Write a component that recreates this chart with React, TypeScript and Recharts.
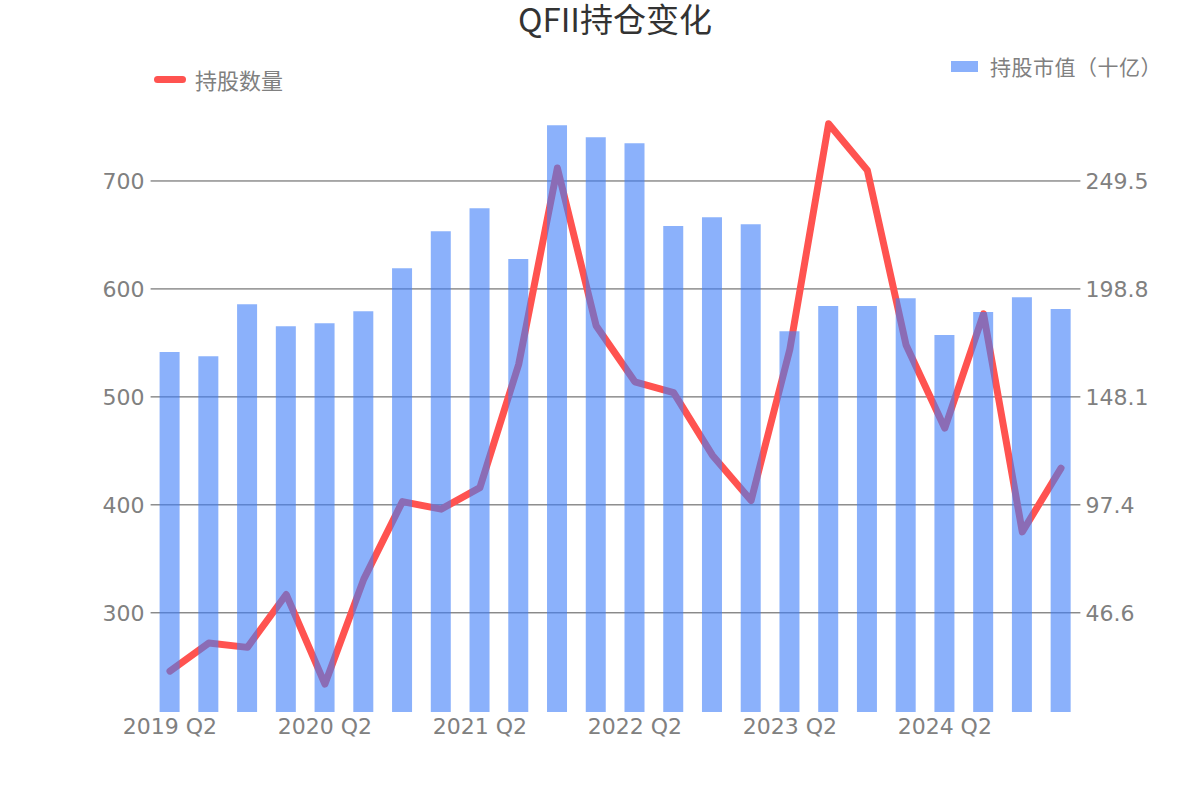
import React from 'react';
import {
  ComposedChart,
  Bar,
  Line,
  XAxis,
  YAxis,
  CartesianGrid,
} from 'recharts';

const quarters = [
  '2019 Q2', '2019 Q3', '2019 Q4', '2020 Q1',
  '2020 Q2', '2020 Q3', '2020 Q4', '2021 Q1',
  '2021 Q2', '2021 Q3', '2021 Q4', '2022 Q1',
  '2022 Q2', '2022 Q3', '2022 Q4', '2023 Q1',
  '2023 Q2', '2023 Q3', '2023 Q4', '2024 Q1',
  '2024 Q2', '2024 Q3', '2024 Q4', '2025 Q1',
];

// 持股数量 (left axis)
const shareCount = [
  246, 272, 268, 317, 234, 331, 403, 396,
  416, 530, 712, 566, 514, 504, 446, 404,
  544, 753, 710, 548, 471, 577, 375, 434,
];

// 持股市值（十亿） (right axis)
const marketValue = [
  169.1, 167.2, 191.6, 181.3, 182.7, 188.3, 208.5, 225.9,
  236.7, 212.8, 275.7, 270.1, 267.2, 228.3, 232.5, 229.2,
  178.9, 190.7, 190.7, 194.4, 177.1, 187.9, 194.9, 189.3,
];

const leftTicks = [300, 400, 500, 600, 700];
const rightTicks = [46.6, 97.4, 148.1, 198.8, 249.5];

const leftDomain: [number, number] = [208.13, 775];
const rightDomain: [number, number] = [0, 0.50725 * (775 - 208.13)];

const data = quarters.map((q, i) => ({
  quarter: q,
  count: shareCount[i],
  value: marketValue[i],
}));

const font = '"DejaVu Sans", "Noto Sans CJK SC", sans-serif';
const cjk = '"Noto Sans CJK SC", "DejaVu Sans", sans-serif';
const tickStyle = { fontSize: 22, fill: '#808080', fontFamily: font };

export default function App() {
  return (
    <div style={{ position: 'absolute', left: 0, top: 0, width: 1200, height: 800, background: '#fff' }}>
      <div
        style={{
          position: 'absolute', left: 415, width: 400, top: 3, textAlign: 'center',
          fontFamily: cjk, fontSize: 33, color: '#333', lineHeight: '30px',
        }}
      >
        QFII持仓变化
      </div>

      <div style={{ position: 'absolute', left: 154, top: 64, display: 'flex', alignItems: 'center' }}>
        <div style={{ width: 32, height: 7, borderRadius: 4, background: '#ff5350' }} />
        <span style={{ marginLeft: 9, fontFamily: cjk, fontSize: 22, color: '#808080', lineHeight: '30px' }}>
          持股数量
        </span>
      </div>

      <div style={{ position: 'absolute', left: 951, top: 51, display: 'flex', alignItems: 'center' }}>
        <div style={{ width: 27, height: 11, background: '#8ab0fb' }} />
        <span style={{ marginLeft: 12, fontFamily: cjk, fontSize: 21, letterSpacing: 0.5, color: '#808080', lineHeight: '30px' }}>
          持股市值（十亿）
        </span>
      </div>

      <ComposedChart
        width={1200}
        height={800}
        data={data}
        margin={{ top: 100, right: 0, left: 0, bottom: 0 }}
      >
        <CartesianGrid yAxisId="left" vertical={false} stroke="#555" horizontalValues={leftTicks} />
        <XAxis
          dataKey="quarter"
          interval={3}
          height={88}
          tick={tickStyle}
          tickLine={false}
          axisLine={false}
          tickSize={4}
          tickMargin={2}
        />
        <YAxis
          yAxisId="left"
          orientation="left"
          width={150.6}
          domain={leftDomain}
          ticks={leftTicks}
          allowDataOverflow
          tick={tickStyle}
          tickLine={false}
          axisLine={false}
          tickSize={4}
          tickMargin={2}
        />
        <YAxis
          yAxisId="right"
          orientation="right"
          width={119.6}
          domain={rightDomain}
          ticks={rightTicks}
          allowDataOverflow
          tick={tickStyle}
          tickLine={false}
          axisLine={false}
          tickSize={4}
          tickMargin={1}
        />
        <Line
          yAxisId="left"
          dataKey="count"
          type="linear"
          stroke="#ff5350"
          strokeWidth={7}
          strokeLinecap="round"
          strokeLinejoin="round"
          dot={false}
          activeDot={false}
          isAnimationActive={false}
          zIndex={250}
        />
        <Bar
          yAxisId="right"
          dataKey="value"
          fill="#3d7df9"
          fillOpacity={0.6}
          barSize={20}
          isAnimationActive={false}
        />
      </ComposedChart>
    </div>
  );
}
